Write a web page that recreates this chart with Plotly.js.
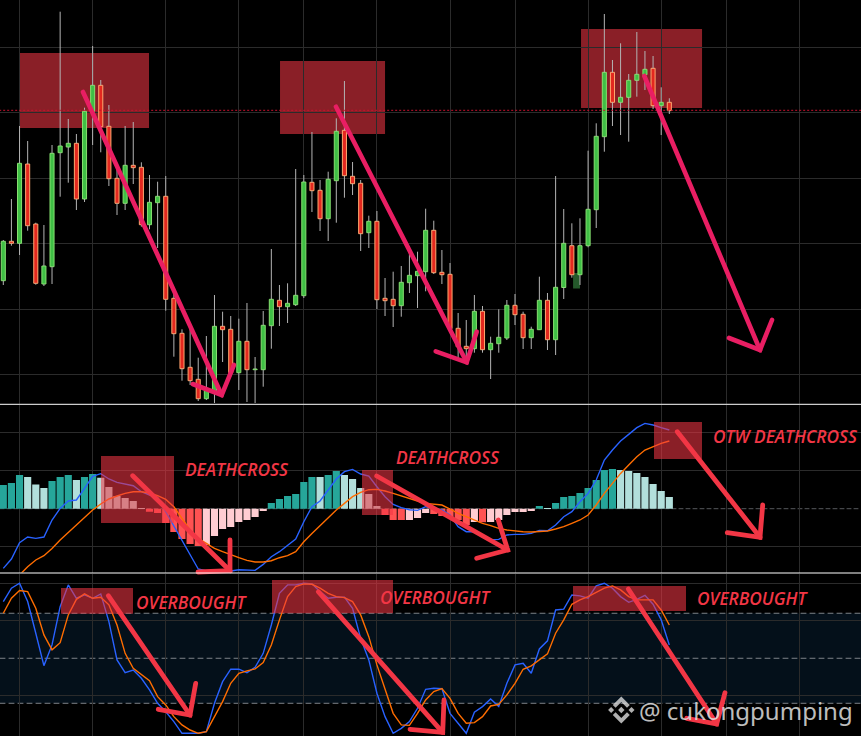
<!DOCTYPE html>
<html>
<head>
<meta charset="utf-8">
<script src="https://cdn.plot.ly/plotly-3.0.1.min.js"></script>
<style>
html,body{margin:0;padding:0;background:#000;overflow:hidden}
#chart{width:861px;height:736px}
.shapelayer path{stroke-linecap:round;stroke-linejoin:miter}
</style>
</head>
<body>
<div id="chart"></div>
<script>
// ---------- candles (price units) ----------
const open = [123.3,162.7,160.7,240,180,120,137.3,251.3,257,260.7,205,292.7,318.7,277.7,225.7,200.7,238.7,236.7,179.3,201.3,207.7,105.7,70.7,36.7,24.7,5.3,13.3,77.7,74.7,31.3,62.7,34.3,34.3,78.3,103.7,97.3,99.3,108.3,221.7,213.7,185.3,223.3,273.7,227.7,220.7,171.3,182.7,105.7,104.7,98.3,121.3,128.3,132.3,173.7,131.7,129.7,75.7,57.7,55.3,92.7,54.3,60.3,66,98.7,89.7,66.3,74.3,103.7,64.3,116.5,158.3,129.3,158.3,194.3,267.3,331.7,301.7,306.7,323.7,329.3,335.7,298.3,301.7];
const close = [162.7,160.7,240.7,178.3,120.7,138,250.7,258,260.7,205,292.7,318.7,277.3,225.3,200.7,238.7,236.3,179.3,201.7,207.7,104.7,70.3,35.3,23.3,5.3,14,77.7,74.3,31.3,62.7,34.3,35,78.7,104.7,97.3,100.7,108.7,222,213.3,185.3,224.7,272.7,228.3,220.3,170.3,182.7,104.3,103.3,98.3,121.7,128.7,132.7,173.7,131.3,129.3,75.3,57.3,55.3,92.7,54.3,60.7,66.7,98.7,89.3,66.3,74.7,103.7,64.3,116.7,160.7,129.3,158.3,194.7,267.7,331.7,301.7,306.7,323.7,329.7,334.7,298.3,301.7,293.3];
const high = [164,205,278,263,181.3,179,259,392.3,285,270,296.3,358,324,299,237.3,278,282,241.7,229,222.3,228,112.3,74.7,78,46.3,68,109,92.3,88,85.3,101,47,93,155,119,120.7,235,229,272,224,232.3,285.7,323,242,224,188.3,193,126,132.3,138,158,152.3,195.3,183.3,154,141,91,84,109,98,67.3,94.7,104,110,92.3,77.3,127.3,111,228,195,180.7,185.7,253.3,280.7,390,344,360.7,330,372,353,348,316.7,305.7];
const low = [119,158.3,149,173.3,119.3,118,120,207.3,221.3,194,202,259,251.7,218,189,194,220,177.3,174.7,156,93.3,47.3,23.3,19,3,4,1,42,27.3,14,2,1,17.3,55.3,78,81,98,106,192,173,163,181.3,206.3,209,153,156,95,88,77,87.3,111,96,112.7,130,120,71,44,44,51.3,51.3,25,51.3,64,79,55,55,74,54,49,105,126.3,119,156.7,176,252.3,278,269,262.3,307.3,314,295,269,290];

// ---------- MACD panel ----------
const macdHist = [23.7,25.7,33.7,31.7,24.3,20.7,27.7,31.7,33.7,28.7,31.7,34.7,31,21.7,12.7,10.7,7.7,0.3,-3,-4.3,-14.3,-23.3,-30.3,-35.3,-37.3,-36.3,-27.3,-20.3,-18.3,-13.3,-11.3,-8.3,-2.3,5.7,9.7,12.7,14.7,26.7,31.7,31.6,33.7,37.7,33.7,29.7,20.7,14.7,2.7,-6.3,-11.3,-11.4,-11.3,-9.3,-4.3,-5.3,-7.3,-9.3,-11.3,-16.3,-13.3,-13.5,-13.3,-11.3,-6.3,-3.3,-3.2,-2.3,2.7,0.3,5.7,11.7,12.7,15.7,20.7,28.7,38.7,39.7,38.7,37.7,35.7,31.7,24.7,17.7,11.7];
const macdLine = [-59.7,-50.3,-34,-28.3,-29.7,-28.3,-11.3,0.3,7.7,8.7,20.3,32.3,35,29.7,26.3,25,23,17,13.7,11.3,-3,-16.3,-31.3,-44.7,-60.3,-62.3,-62.3,-62.3,-62.3,-61,-61.7,-61.7,-55.7,-48,-43,-36.3,-30.3,-13,2,7.7,18.7,29.7,37,39.3,34.7,32.7,22,12,4.3,1,-1,-1.7,2,0.3,-1.3,-6.3,-18,-23,-23,-28.3,-31,-30.7,-26.3,-25.7,-25.7,-24.7,-21.7,-22,-16.3,-8,-3,7,15.3,28.7,48.7,58.7,67.7,74.3,81,85.3,83.7,81,78.7];
const macdSignal = [-73,-69.7,-66.3,-58,-51.3,-47,-39.7,-31.3,-23.7,-16.3,-9,-1.3,4.7,9.7,12.7,15.3,17,17,15.7,13,9.3,2,-9.7,-21.3,-29.7,-34.7,-39.7,-43,-46.3,-49,-51.7,-53.3,-53.3,-52,-49,-47,-43,-33,-24.7,-17,-9.7,-1.3,5.3,12,16.3,19,19.3,17.7,15.3,13,10.3,7.7,5.3,4.7,3.7,-0.3,-4.7,-8,-11.3,-14.7,-17,-19.7,-21.3,-22.3,-23,-23.3,-23,-22.3,-20.3,-18,-14.7,-11.3,-6.3,3.7,15.3,25.3,35.3,43.7,52,58.7,62,65.3,67.7];

// ---------- Stochastic panel ----------
const stochK = [87.8,96.7,100,87.8,66.7,45.1,58.9,84.4,98.9,90,92.2,90,92.9,74.4,48.9,40.4,42.2,36.7,28.9,20,14.4,7.8,0,0,0,1.1,20,34.4,42.7,42.7,40.4,44,53.3,72.2,93.3,98.9,98.9,100,99.6,94.4,90,90.7,90.7,83.3,63.3,48.9,26.7,11.1,0,3.3,7.8,16.7,29.3,30,29.8,13.3,6.7,0,14,17.8,22.9,17.8,33.3,45.6,46.7,40,56.2,61.6,82.2,82.7,92.2,91.6,90,98.2,100,96.7,91.1,87.3,89.3,92,86,75.6,58.9];
const stochD = [80,90,95.1,94.4,83.3,65.6,55.6,60.4,78.9,89.3,92.9,90,90.7,85.6,72.2,53.3,43.3,38.9,35.1,24.4,18.9,11.1,5.6,2.2,0,1.1,11.1,21.1,33.3,40,41.6,42.9,47.1,58.9,75.6,91.1,97.8,99.6,99.3,96.7,93.3,91.1,90.4,87.8,78.9,64.4,45.6,28.9,13.3,5.6,5.3,13.3,22.2,27.8,29.8,23.3,13.3,6.7,7.1,11.1,18.2,19.3,25.6,33.3,42.7,44.9,48.9,52.9,66.7,75.6,86,88.9,91.1,93.8,96.7,98.2,95.6,91.1,88.9,88.9,88.9,82.2,72.2];

// ---------- grid ticks ----------
const xGrid = [2,11,20,29,37,46,55,63,72,81,89,98];
const priceGrid = [356.7,292,225.7,160.7,94.7,29.7];
const macdGrid = [76.4,38,-37.6];
const stochGrid = [100,75,25];
const stochBands = [80,50,20];
const priceLevel = 293.7;

// ---------- colours ----------
const GREEN='#3fbf45', GREEN_EDGE='#86e070', RED='#e3281f', RED_EDGE='#ffa870';
const TEAL='#26a69a', TEAL_L='#b2dfdb', NEG='#ff5252', NEG_L='#ffcdd2';
const GRID='#2b2b2b', RECT='rgba(242,54,69,0.57)', PINK='#e91e63', ARROW='#f23645';

const idx = open.map((_, i) => i);
const bodyBase = open.map((o, i) => Math.min(o, close[i]));
const bodyLen  = open.map((o, i) => Math.abs(o - close[i]));
const isUp = open.map((o, i) => close[i] >= o);
const histColor = macdHist.map((v, i) => {
  const rising = i === 0 || v >= macdHist[i-1];
  return v >= 0 ? (rising ? TEAL : TEAL_L) : (rising ? NEG_L : NEG);
});

// wicks run from the extremes to the body, never across it
const wickX = [], wickY = [];
idx.forEach(i => {
  wickX.push(i, i, null, i, i, null);
  wickY.push(high[i], bodyBase[i] + bodyLen[i], null, bodyBase[i], low[i], null);
});

const traces = [
  {type:'scatter', mode:'lines', x:wickX, y:wickY, connectgaps:false, hoverinfo:'skip',
   line:{color:'#b4b4b4', width:1}, xaxis:'x', yaxis:'y', name:'wick'},
  {type:'bar', x:idx, y:bodyLen, base:bodyBase, width:0.5, xaxis:'x', yaxis:'y', name:'candle',
   marker:{color:isUp.map(u=>u?GREEN:RED), line:{color:isUp.map(u=>u?GREEN_EDGE:RED_EDGE), width:1}}},
  {type:'scatter', mode:'lines', x:[-1,106], y:[priceLevel,priceLevel], xaxis:'x', yaxis:'y', hoverinfo:'skip',
   line:{color:'#c8102e', width:1, dash:'2px,2px'}, name:'price'},
  {type:'bar', x:idx, y:macdHist, width:0.88, xaxis:'x', yaxis:'y2', name:'hist',
   marker:{color:histColor, line:{width:0}}},
  {type:'scatter', mode:'lines', x:idx, y:macdLine, xaxis:'x', yaxis:'y2', name:'MACD',
   line:{color:'#2962ff', width:1.4}},
  {type:'scatter', mode:'lines', x:idx, y:macdSignal, xaxis:'x', yaxis:'y2', name:'Signal',
   line:{color:'#ff6d00', width:1.4}},
  {type:'scatter', mode:'lines', x:idx, y:stochK, xaxis:'x', yaxis:'y3', name:'%K',
   line:{color:'#2962ff', width:1.4}},
  {type:'scatter', mode:'lines', x:idx, y:stochD, xaxis:'x', yaxis:'y3', name:'%D',
   line:{color:'#ff6d00', width:1.4}}
];

// annotation overlay helpers: picture pixels -> paper fractions
const W = 861, H = 736;
const px = x => x / W, py = y => 1 - y / H;
const poly = (pts, closed) => 'M' + pts.map(p => px(p[0]).toFixed(5) + ',' + py(p[1]).toFixed(5)).join('L') + (closed ? 'Z' : '');
const overlay = (pts, color, width) => ({type:'path', xref:'paper', yref:'paper', layer:'above', path:poly(pts), line:{color, width}});
const arrow = (start, tip, a, b, color, width) => [overlay([start, tip], color, width), overlay([a, tip, b], color, width)];
const box = (x0, y0, x1, y1) => ({type:'rect', xref:'paper', yref:'paper', layer:'above', x0:px(x0), x1:px(x1), y0:py(y1), y1:py(y0), fillcolor:RECT, line:{width:0}});
const topBox = (i0, i1, p0, p1) => ({type:'rect', xref:'x', yref:'y', layer:'below', x0:i0, x1:i1, y0:p0, y1:p1, fillcolor:RECT, line:{width:0}});

const shapes = [
  // oscillator band
  {type:'rect', xref:'paper', yref:'y3', layer:'below', x0:0, x1:1, y0:20, y1:80, fillcolor:'#04101a', line:{width:0}},
  // price-panel highlight boxes (behind the candles)
  topBox(2.0, 17.94, 276, 351),
  topBox(34.07, 47.0, 270, 343),
  topBox(71.13, 86.03, 296, 375),
  // stray dark block beside the candles
  {type:'rect', xref:'x', yref:'y', layer:'below', x0:70.15, x1:71.0, y0:115.5, y1:131, fillcolor:'#24592b', line:{width:0}},
  // level lines
  {type:'line', xref:'paper', yref:'y2', layer:'below', x0:0, x1:1, y0:0, y1:0, line:{color:'#55585c', width:1, dash:'4px,3px'}},
  ...stochBands.map(v => ({type:'line', xref:'paper', yref:'y3', layer:'below', x0:0, x1:1, y0:v, y1:v, line:{color:'#7d8288', width:1, dash:'5px,4px'}})),
  // indicator highlight boxes
  box(101, 456, 174, 523), box(362, 470, 393, 515), box(654, 422, 702, 459),
  box(61, 588, 133, 613.7), box(272, 580, 393, 613.3), box(573, 586, 686, 611),
  // pink arrows on price
  ...arrow([83,92],[221.7,395],[192.7,384],[234,365],PINK,4.6),
  ...arrow([336,106.7],[466.7,362.3],[435.7,351.3],[476.7,331.7],PINK,4.6),
  ...arrow([644.3,76],[760,350],[729,338],[772,320],PINK,4.6),
  // red arrows on MACD
  ...arrow([132.7,475.7],[230,570.7],[198,572],[230,540],ARROW,4.8),
  ...arrow([376.7,476],[507.7,550],[476.7,558.3],[498.3,520],ARROW,4.8),
  ...arrow([677.3,431.7],[760,537.3],[727.3,532.7],[762.7,505],ARROW,4.8),
  // red arrows on stochastic
  ...arrow([108.3,595.7],[190,715],[158.3,709.3],[195.7,683.3],ARROW,4.8),
  ...arrow([318.3,591.7],[442.7,732.3],[410,729.3],[444,700],ARROW,4.8),
  ...arrow([628.3,589],[716.7,724],[686.7,718.3],[725,692.7],ARROW,4.8),
  // panel separators
  {type:'line', xref:'paper', yref:'paper', layer:'above', x0:0, x1:1, y0:py(404.3), y1:py(404.3), line:{color:'#ffffff', width:1}},
  {type:'line', xref:'paper', yref:'paper', layer:'above', x0:0, x1:1, y0:py(573), y1:py(573), line:{color:'#ffffff', width:1}}
];

// watermark logo
const LOGO = [621.3, 710];
const logoParts = [
  [[0,-13.5],[8.5,-5],[5.7,-2.2],[0,-7.9],[-5.7,-2.2],[-8.5,-5]],
  [[0,13.5],[8.5,5],[5.7,2.2],[0,7.9],[-5.7,2.2],[-8.5,5]],
  [[0,-3.2],[3.2,0],[0,3.2],[-3.2,0]],
  [[-10.2,-3],[-7.2,0],[-10.2,3],[-13.2,0]],
  [[10.2,-3],[13.2,0],[10.2,3],[7.2,0]]
];
logoParts.forEach(part => shapes.push({type:'path', xref:'paper', yref:'paper', layer:'above',
  path:poly(part.map(p => [LOGO[0]+p[0], LOGO[1]+p[1]]), true),
  fillcolor:'rgba(225,225,225,0.78)', line:{width:0}}));

const label = (text, x, y, size) => ({text, xref:'paper', yref:'paper', x:px(x), y:py(y), xanchor:'left', yanchor:'middle',
  showarrow:false, font:{family:'"Open Sans", sans-serif', size:size || 17.3, color:ARROW, style:'italic', weight:600}});

const annotations = [
  label('DEATHCROSS', 183, 469),
  label('DEATHCROSS', 394, 457.5),
  label('OTW DEATHCROSS', 711, 436.5),
  label('OVERBOUGHT', 134, 602.5),
  label('OVERBOUGHT', 378, 597.5),
  label('OVERBOUGHT', 695, 598),
  {text:'@ cukongpumping', xref:'paper', yref:'paper', x:px(637), y:py(710), xanchor:'left', yanchor:'middle', showarrow:false,
   font:{family:'"Noto Sans", sans-serif', size:24, color:'rgba(225,225,225,0.85)'}}
];

const hidden = {showticklabels:false, ticks:'', zeroline:false, showline:false, gridcolor:GRID, gridwidth:1};
const layout = {
  width:W, height:H, autosize:false,
  margin:{l:0, r:0, t:0, b:0, pad:0},
  paper_bgcolor:'#000', plot_bgcolor:'#000',
  showlegend:false, barmode:'overlay', hovermode:false,
  xaxis:{...hidden, range:[-0.406,105.6], tickmode:'array', tickvals:xGrid, anchor:'y3', domain:[0,1]},
  yaxis:{...hidden, range:[0,404], domain:[1-404/H,1], tickmode:'array', tickvals:priceGrid},
  yaxis2:{...hidden, range:[-63.8,103.7], domain:[1-572.5/H,1-405/H], tickmode:'array', tickvals:macdGrid},
  yaxis3:{...hidden, range:[-1.8,106.5], domain:[0,1-573.5/H], tickmode:'array', tickvals:stochGrid},
  shapes, annotations
};
Plotly.newPlot('chart', traces, layout, {displayModeBar:false, responsive:false});
</script>
</body>
</html>
